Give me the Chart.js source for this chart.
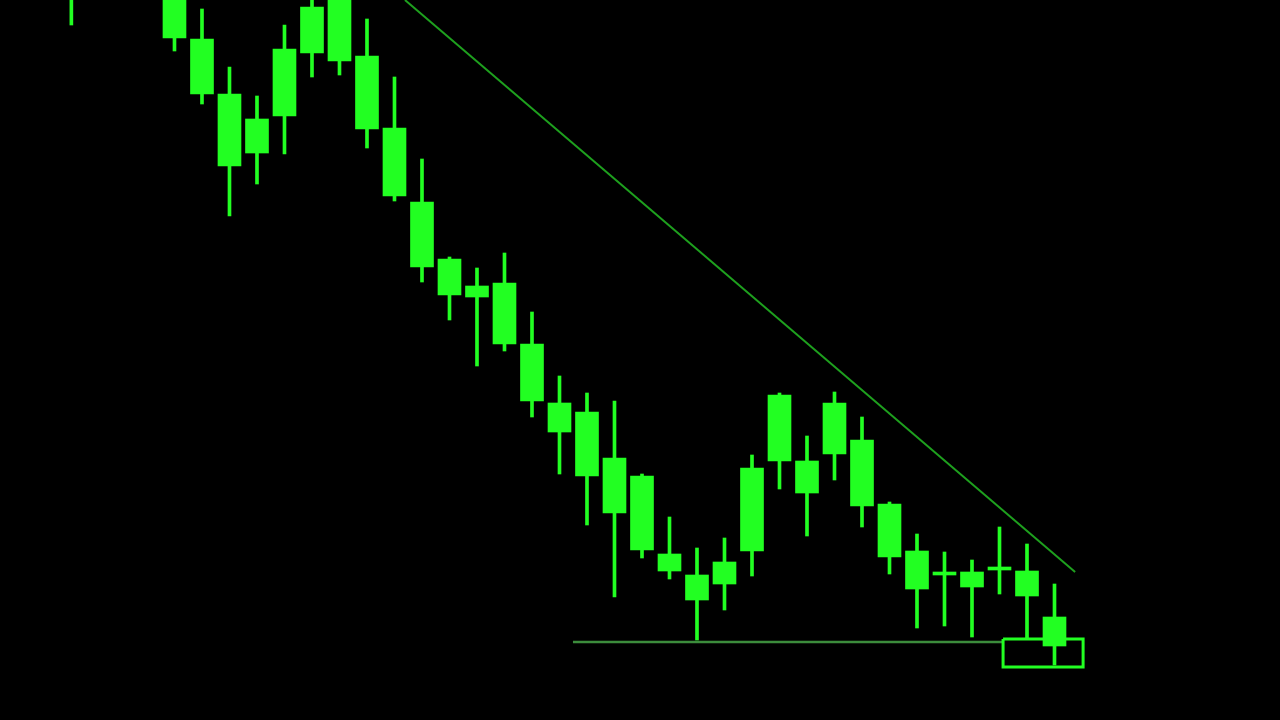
<!DOCTYPE html>
<html>
<head>
<meta charset="utf-8">
<script src="https://cdn.jsdelivr.net/npm/chart.js@4/dist/chart.umd.min.js"></script>
<style>
  html, body { margin: 0; padding: 0; background: #000; }
  canvas { display: block; background: #000; }
</style>
</head>
<body>
<canvas id="grafico" width="1280" height="720"></canvas>
<script>
// sessões (posição de cada vela no eixo x)
const sessoes = [-3.75, 0, 1, 2, 3, 4, 5, 6, 7, 8, 9, 10, 11, 12, 13, 14, 15, 16,
                 17, 18, 19, 20, 21, 22, 23, 24, 25, 26, 27, 28, 29, 30, 31, 32];
// preços
const maxima = [119, 115, 111.1, 105.3, 102.4, 109.5, 113, 114, 110.1, 104.3, 96.1, 86.3, 85.2, 86.7,
                80.8, 74.4, 72.7, 71.9, 64.6, 60.3, 57.2, 58.2, 66.5, 72.7, 68.4, 72.8, 70.3, 61.8,
                58.6, 56.8, 56, 59.3, 57.6, 53.6];
const abertura = [118, 114, 108.1, 102.6, 100.1, 107.1, 111.3, 113, 106.4, 99.2, 91.8, 86.1, 83.4, 83.7,
                  77.6, 71.7, 70.8, 66.2, 64.4, 56.6, 54.5, 55.8, 65.2, 72.5, 65.9, 71.7, 68, 61.6,
                  56.9, 54.8, 54.8, 55.3, 54.9, 50.3];
const fechamento = [112.5, 108.2, 102.6, 95.4, 96.7, 100.4, 106.7, 105.9, 99.1, 92.4, 85.3, 82.5, 82.3, 77.6,
                    71.9, 68.8, 64.4, 60.7, 57, 54.9, 52, 53.6, 56.9, 65.9, 62.7, 66.6, 61.4, 56.3,
                    53.1, 54.5, 53.3, 55, 52.4, 47.4];
const minima = [109.5, 106.9, 101.6, 90.4, 93.6, 96.6, 104.3, 104.5, 97.2, 91.9, 83.8, 80, 75.4, 76.9,
                70.3, 64.6, 59.5, 52.3, 56.2, 54.1, 48, 51, 54.4, 63.1, 58.4, 64, 59.3, 54.6,
                49.2, 49.4, 48.3, 52.6, 48.1, 45.5];

// linhas de tendência e suporte
const tendenciaX = [8.38, 32.75];
const tendenciaY = [112, 54.8];
const suporteX = [14.49, 30.13];
const suporteY = [47.8, 47.8];
// caixa em volta da última vela
const caixaX = [30.13, 33.04, 33.04, 30.13, 30.13];
const caixaY = [48.1, 48.1, 45.3, 45.3, 48.1];

const verde = 'rgb(34, 255, 34)';

const corpos = sessoes.map((s, i) => ({ x: s, y: [fechamento[i], abertura[i]] }));
const pavios = sessoes.map((s, i) => ({ x: s, y: [minima[i], maxima[i]] }));
const pontos = (xs, ys) => xs.map((x, i) => ({ x: x, y: ys[i] }));

new Chart(document.getElementById('grafico'), {
    type: 'bar',
    data: {
        datasets: [
            {
                type: 'line',
                data: pontos(tendenciaX, tendenciaY),
                borderColor: 'rgb(30, 160, 30)',
                borderWidth: 2,
                pointRadius: 0,
                order: 0
            },
            {
                type: 'line',
                data: pontos(suporteX, suporteY),
                borderColor: 'rgb(60, 140, 60)',
                borderWidth: 2.5,
                pointRadius: 0,
                order: 3
            },
            {
                type: 'line',
                data: pontos(caixaX, caixaY),
                borderColor: verde,
                borderWidth: 3,
                pointRadius: 0,
                order: 0
            },
            {
                data: corpos,
                backgroundColor: verde,
                borderWidth: 0,
                barThickness: 23,
                grouped: false,
                order: 1
            },
            {
                data: pavios,
                backgroundColor: verde,
                borderWidth: 0,
                barThickness: 3,
                grouped: false,
                order: 2
            }
        ]
    },
    options: {
        responsive: false,
        animation: false,
        devicePixelRatio: 1,
        layout: { padding: 0 },
        plugins: {
            legend: { display: false },
            tooltip: { enabled: false }
        },
        scales: {
            x: { type: 'linear', display: false, min: -6.345, max: 40.2, offset: false },
            y: { type: 'linear', display: false, min: 40, max: 112 }
        }
    }
});
</script>
</body>
</html>
